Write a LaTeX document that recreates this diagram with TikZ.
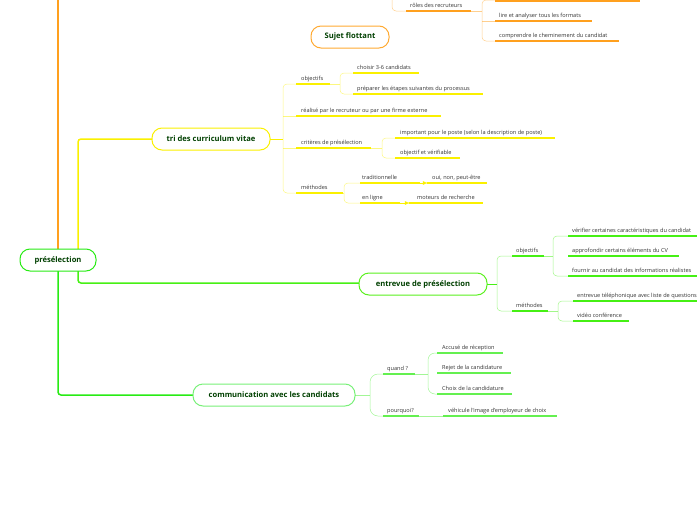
\documentclass[tikz,border=0pt]{standalone}
\usepackage{fontspec}
\setmainfont{Open Sans}
\begin{document}
\begin{tikzpicture}[x=1pt,y=-1pt,
  lab/.style={anchor=base west,inner sep=0pt,text=black!80,font=\fontsize{5.6}{6}\selectfont},
  big/.style={draw,line width=1pt,rounded corners=10pt,minimum height=22pt,fill=white,text=green!25!black,font=\fontsize{7.6}{9}\selectfont\bfseries},
  ul/.style={line width=1.1pt},
  br/.style={line width=0.5pt,rounded corners=4pt},
  cO/.style={color={rgb,255:red,255;green,160;blue,30}},
  cY/.style={color={rgb,255:red,250;green,240;blue,0}},
  cG/.style={color={rgb,255:red,70;green,240;blue,20}},
  cL/.style={color={rgb,255:red,100;green,240;blue,80}},
  arr/.style={-latex}]
\useasboundingbox[clip] (0,0) rectangle (697,520);
% main trunks
\draw[cO,line width=1.5pt] (58,-5) -- (58,250);
\draw[cY,line width=1.5pt,rounded corners=3pt] (78,255) -- (78,139) -- (153,139);
\draw[cG,line width=1.5pt,rounded corners=3pt] (78,250) -- (78,283) -- (362,283);
\draw[color={rgb,255:red,40;green,235;blue,20},line width=1.5pt,rounded corners=3pt] (58,270) -- (58,395) -- (195,395);
\node[big,draw={rgb,255:red,40;green,235;blue,20},minimum width=76pt] (pre) at (58,260) {présélection};
\node[big,draw={rgb,255:red,250;green,240;blue,0},minimum width=118pt] (tri) at (211,139) {tri des curriculum vitae};
\node[big,draw={rgb,255:red,90;green,240;blue,30},minimum width=128pt] (ent) at (423,284) {entrevue de présélection};
\node[big,draw={rgb,255:red,120;green,240;blue,120},minimum width=162pt] (com) at (274,395) {communication avec les candidats};
\node[big,draw={rgb,255:red,255;green,170;blue,50},minimum width=78pt] (suj) at (350,37) {Sujet flottant};
% top orange
\draw[cO,br,opacity=.5] (392,-6) -- (392,11) -- (406,11);
\node[lab] (rol) at (410,7) {rôles des recruteurs};
\draw[cO,ul] (406,11) -- (471,11);
\draw[cO,br,opacity=.5] (471,11) -- (482,11);
\draw[cO,br,opacity=.5] (495,0) -- (482,0) -- (482,41) -- (495,41);
\draw[cO,br,opacity=.5] (482,21) -- (495,21);
\draw[cO,ul] (495,1) -- (640,1);
\node[lab] (lir) at (499,17) {lire et analyser tous les formats};
\draw[cO,ul] (495,21) -- (592,21);
\node[lab] (cmp) at (499,37) {comprendre le cheminement du candidat};
\draw[cO,ul] (495,41) -- (619,41);
% tri
\draw[cY,line width=1pt] (270,139) -- (283,139);
\draw[cY,br,opacity=.5] (296,84) -- (283,84) -- (283,193) -- (296,193);
\draw[cY,br,opacity=.5] (283,116) -- (296,116);
\draw[cY,br,opacity=.5] (283,148) -- (296,148);
\node[lab] (obj) at (301,80) {objectifs};
\draw[cY,ul] (296,84) -- (330,84);
\draw[cY,br,opacity=.5] (330,84) -- (340,84);
\draw[cY,br,opacity=.5] (353,73) -- (340,73) -- (340,94) -- (353,94);
\node[lab] (cho) at (357,69) {choisir 3-6 candidats};
\draw[cY,ul] (353,73) -- (419,73);
\node[lab] (pre2) at (357,90) {préparer les étapes suivantes du processus};
\draw[cY,ul] (353,94) -- (483,94);
\node[lab] (rea) at (301,112) {réalisé par le recruteur ou par une firme externe};
\draw[cY,ul] (296,116) -- (441,116);
\node[lab] (cri) at (301,144) {critères de présélection};
\draw[cY,ul] (296,148) -- (371,148);
\draw[cY,br,opacity=.5] (371,148) -- (382,148);
\draw[cY,br,opacity=.5] (395,138) -- (382,138) -- (382,158) -- (395,158);
\node[lab] (imp) at (400,134) {important pour le poste (selon la description de poste)};
\draw[cY,ul] (395,138) -- (555,138);
\node[lab] (ove) at (400,154) {objectif et vérifiable};
\draw[cY,ul] (395,158) -- (460,158);
\node[lab] (met) at (301,189) {méthodes};
\draw[cY,ul] (296,193) -- (343,193);
\draw[cY,br,opacity=.5] (343,193) -- (344,193);
\draw[cY,br,opacity=.5] (360,183) -- (344,183) -- (344,203) -- (360,203);
\node[lab] (tra) at (362,179) {traditionnelle};
\draw[cY,ul] (360,183) -- (420,183);
\draw[cY,arr,line width=0.8pt] (400,183) -- (428,183);
\node[lab] (oui) at (432,179) {oui, non, peut-être};
\draw[cY,ul] (427,183) -- (487,183);
\node[lab] (enl) at (362,199) {en ligne};
\draw[cY,ul] (360,203) -- (400,203);
\draw[cY,arr,line width=0.8pt] (390,203) -- (410,203);
\node[lab] (mot) at (417,199) {moteurs de recherche};
\draw[cY,ul] (409,203) -- (483,203);
% entrevue
\draw[cG,line width=1pt] (487,284) -- (497,284);
\draw[cG,br,opacity=.5] (512,256) -- (497,256) -- (497,311) -- (512,311);
\node[lab] (eob) at (516,252) {objectifs};
\draw[cG,ul] (512,256) -- (544,256);
\draw[cG,br,opacity=.5] (544,256) -- (553,256);
\draw[cG,br,opacity=.5] (568,236) -- (553,236) -- (553,276) -- (568,276);
\node[lab] (ver) at (572,232) {vérifier certaines caractéristiques du candidat};
\draw[cG,ul] (568,236) -- (697,236);
\node[lab] (app) at (572,252) {approfondir certains éléments du CV};
\draw[cG,ul] (568,256) -- (679,256);
\node[lab] (fou) at (572,272) {fournir au candidat des informations réalistes};
\draw[cG,ul] (568,276) -- (697,276);
\node[lab] (eme) at (516,307) {méthodes};
\draw[cG,ul] (512,311) -- (548,311);
\draw[cG,br,opacity=.5] (548,311) -- (558,311);
\draw[cG,br,opacity=.5] (573,301) -- (558,301) -- (558,321) -- (573,321);
\node[lab] (tel) at (577,297) {entrevue téléphonique avec liste de questions};
\draw[cG,ul] (573,301) -- (697,301);
\node[lab] (vid) at (577,317) {vidéo conférence};
\draw[cG,ul] (573,321) -- (629,321);
% communication
\draw[cL,br,opacity=.6] (355,395) -- (370,395);
\draw[cL,br,opacity=.6,rounded corners=8pt] (383,374) -- (370,374) -- (370,416) -- (383,416);
\node[lab] (qua) at (387,370) {quand ?};
\draw[cL,ul] (383,374) -- (415,374);
\draw[cL,br,opacity=.6] (415,374) -- (428,374);
\draw[cL,br,opacity=.6,rounded corners=7pt] (437,353) -- (428,353) -- (428,394) -- (437,394);
\node[lab] (acc) at (442,349) {Accusé de réception};
\draw[cL,ul] (437,353) -- (503,353);
\node[lab] (rej) at (442,369) {Rejet de la candidature};
\draw[cL,ul] (437,373) -- (511,373);
\node[lab] (chx) at (442,390) {Choix de la candidature};
\draw[cL,ul] (437,394) -- (512,394);
\node[lab] (pou) at (387,412) {pourquoi?};
\draw[cL,ul] (383,416) -- (419,416);
\draw[cL,br,opacity=.6] (419,416) -- (443,416);
\node[lab] (veh) at (448,412) {véhicule l'image d'employeur de choix};
\draw[cL,ul] (443,416) -- (557,416);
\end{tikzpicture}
\end{document}
